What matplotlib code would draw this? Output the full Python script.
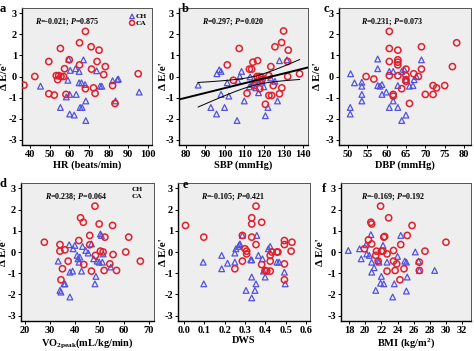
import numpy as np
import matplotlib.pyplot as plt

plt.rcParams['font.family'] = ['Liberation Serif', 'DejaVu Serif']
plt.rcParams['font.weight'] = 'bold'
plt.rcParams['axes.unicode_minus'] = False
plt.rcParams['mathtext.fontset'] = 'custom'
plt.rcParams['mathtext.rm'] = 'Liberation Serif:bold'
plt.rcParams['mathtext.it'] = 'Liberation Serif:italic:bold'

# ---- data ----
# a: HR
hr_ca_x = [37, 42.5, 49.6, 49.6, 52.4, 53.4, 54.6, 54.1, 55.5, 55.8, 57.1, 57.6, 58.3, 60, 65.2,
           65.2, 68.2, 68.2, 71.1, 71.3, 72.3, 73.1, 74.1, 75.1, 77.5, 78.3, 82, 83.2, 95]
hr_ca_y = [-0.41, 0.0, 0.71, -0.82, -0.88, 0.04, 0.04, -0.15, 1.33, 0.0, 0.0, 0.37, -0.85, 0.79, 0.55,
           1.6, 2.14, -0.58, 1.41, 0.35, -0.54, -0.8, 0.71, 1.25, 0.09, 0.47, -0.43, -1.28, 0.13]
hr_ch_x = [45.4, 55.5, 58.5, 60.2, 59.3, 59.7, 60.5, 60.2, 62.5, 63.5, 63.2, 65, 65, 66.2, 65.5,
           66.5, 67.2, 68, 68.4, 68.4, 73.9, 75.6, 76.5, 82, 84.4, 84.9, 83.5, 95.5]
hr_ch_y = [-0.46, -1.47, -0.97, -0.85, -0.18, 0.82, 0.29, -1.78, -1.83, -0.85, 0.37, 0.24, -0.3, -0.3, -1.47,
           -1.47, 0.79, -0.38, -1.16, -2.09, 0.27, -0.46, -0.46, -0.2, -0.15, -0.12, -1.16, -0.74]

# b: SBP
sbp_ca_x = [101.2, 107.3, 104.3, 111.3, 112.5, 113.7, 114.3, 116.7, 115.1, 116.4, 117.6, 117.8, 118.6, 120.7,
            122.5, 123.5, 122.5, 123.9, 125.6, 124.7, 127.9, 129, 129.1, 130, 132.1, 132.1, 132.4, 138.2, 119]
sbp_ca_y = [0.55, 1.33, -0.18, -0.8, 0.35, 0.35, 0.68, 0.75, -0.43, 0.0, 0.0, -0.58, -0.02, -1.32,
            0.04, 0.47, -0.9, -0.9, 1.41, -0.43, -0.82, 1.61, -0.54, 2.16, 0.71, 0.0, 1.25, 0.13, -0.15]
sbp_ch_x = [86.3, 92.8, 95.7, 95.9, 97.1, 98, 98, 99.8, 101.2, 102.0, 106.2, 106.7, 107.6, 108.5, 109.9, 112.9,
            112.5, 113.7, 115.5, 115.8, 117.2, 118.1, 119, 119.9, 120.7, 122, 123.4, 125.6, 126.9, 127.9, 131.7]
sbp_ch_y = [-0.41, -1.47, -1.78, 0.13, 0.32, 0.24, -0.85, -1.47, -0.3, -0.93, -2.09, -0.23, 0.0, 0.24, -1.16, -0.02,
            -0.49, -0.38, -0.23, -0.54, -0.77, -0.15, -0.23, -0.49, -1.86, -1.47, -0.07, -0.23, -1.16, 0.75, 0.79]

# c: DBP
dbp_ca_x = [54.7, 56.7, 60.7, 60.7, 60.7, 60.7, 61.7, 61.7, 62.9, 62.9, 62.9, 62.9, 62.9, 63.9, 65,
            65, 65, 65, 65.9, 67, 68.2, 69, 69, 70, 72, 72, 72.9, 75, 77, 78.1]
dbp_ca_y = [0.0, -0.12, 2.14, 1.33, 0.71, 0.04, -0.85, -0.93, 1.25, 0.79, 0.68, 0.55, 0.04, -0.58, 0.35,
            0.04, -0.15, -0.23, -1.28, 0.13, 0.0, 1.41, 0.35, -0.85, -0.43, -0.85, -0.54, -0.43, 0.47, 1.6]
dbp_ch_x = [50.7, 50.6, 50.6, 51.7, 53.6, 53.6, 53.6, 53.6, 57.7, 57.7, 57.7, 58.3, 58.8, 58.8, 59.9, 60.7,
            60.7, 61.7, 61.7, 62.9, 62.9, 63.9, 63.9, 64.6, 65, 65, 65.9, 66.8, 67.1, 67.7, 69]
dbp_ch_y = [0.13, -1.47, -1.78, -0.3, -0.27, -0.46, -0.85, -1.16, 0.83, 0.37, -0.43, -0.46, -0.38, -0.85, -0.74, -1.47,
            0.24, 0.24, -1.16, -0.43, -1.47, 0.24, -2.09, 0.32, -0.15, -1.83, -0.46, -0.43, -0.15, 0.0, 0.79]

# d: VO2peak
vo2_ca_x = [27.8, 34.1, 34.1, 34.5, 35.1, 36.1, 37.4, 41.7, 42.4, 43.5, 43.7, 46.1, 46.1, 46.8,
            48.2, 48.4, 49.9, 50.4, 51.5, 52.2, 51.9, 55.3, 55.5, 54.2, 56.9, 60.6, 61.8, 66.5]
vo2_ca_y = [0.46, 0.35, 0.04, -1.31, -0.79, 0.1, -0.43, 0.54, 1.61, 1.4, -0.59, 0.78, 0.34, -0.9,
            2.16, -0.16, 1.32, 0.04, 0.0, 0.7, -0.87, 1.25, -0.12, -0.56, -0.87, 0.0, 0.7, -0.43]
vo2_ch_x = [33.4, 34.1, 34.5, 35.7, 36.1, 37.8, 38.1, 38.1, 39.2, 39.4, 40.1, 41, 41.4, 41.8, 42.1,
            42.8, 43.2, 44.5, 45.5, 46.8, 47.7, 48.2, 48.6, 49.1, 49.9, 50.4, 50.8, 51.2, 51.5, 54.6]
vo2_ch_y = [-0.43, -1.81, -1.89, -1.5, -1.5, 0.34, -2.12, -0.95, -0.9, 0.15, 0.31, -0.16, -0.32, -0.48, -0.24,
            -0.9, 0.26, 0.07, -0.05, 0.38, -0.32, -1.5, -1.15, -0.43, -0.48, 0.85, 0.78, -0.48, -0.09, -0.71]

# e: DWS
dws_ca_x = [0.007, 0.097, 0.25, 0.287, 0.287, 0.3, 0.308, 0.308, 0.333, 0.333, 0.333, 0.354, 0.354, 0.382, 0.382,
            0.399, 0.407, 0.424, 0.424, 0.424, 0.432, 0.457, 0.462, 0.494, 0.494, 0.494, 0.494, 0.531, 0.527]
dws_ca_y = [1.25, 0.7, -0.79, 0.78, -0.43, 0.15, 0.04, -0.09, 1.61, 1.32, 0.7, 2.16, 0.35, 1.4, -0.59,
            -0.87, -0.9, -0.9, -0.16, -0.43, 0.0, 0.0, 0.0, 0.54, 0.35, -0.56, -1.31, 0.46, 0.04]
dws_ch_x = [0.094, 0.097, 0.185, 0.185, 0.214, 0.25, 0.25, 0.255, 0.267, 0.272, 0.275, 0.287, 0.305, 0.328, 0.333,
            0.333, 0.333, 0.349, 0.354, 0.358, 0.366, 0.386, 0.391, 0.399, 0.415, 0.424, 0.457, 0.468, 0.494, 0.498]
dws_ch_y = [-0.48, -1.5, -0.16, -0.79, -0.53, -0.05, -0.48, 0.15, 0.26, 0.34, 0.38, 0.78, -1.81, -0.37, -0.37,
            -1.18, -2.16, -1.81, -1.5, 0.78, -0.16, -0.32, -0.9, -1.18, 0.15, 0.26, -0.48, -0.48, -0.95, -1.5]

# f: BMI
bmi_ca_x = [19.9, 20.4, 20.7, 20.8, 20.8, 21.3, 21.4, 21.6, 21.9, 22.0, 22.2, 22.3, 22.4, 22.7, 22.7,
            22.9, 23.5, 23.5, 23.7, 23.9, 24.4, 24.3, 24.8, 25.2, 25.8, 26.7, 26.7, 27.4, 30]
bmi_ca_y = [0.15, 0.57, 1.4, 1.32, 0.38, -0.16, 0.04, -0.43, 2.16, 0.04, 0.04, 0.7, 0.73, -0.09, -0.9,
            1.61, 0.07, -0.43, -0.87, -0.56, 0.35, -1.31, -0.79, 0.78, 1.25, -0.48, -0.87, 0.04, 0.46]
bmi_ch_x = [17.9, 19.3, 19.5, 20.1, 20.2, 20.5, 20.7, 20.8, 20.8, 21.1, 21.3, 21.6, 21.7, 21.9, 22.0,
            22.2, 22.3, 22.7, 23.4, 23.6, 24.0, 24.4, 24.9, 25.1, 25.2, 25.1, 26.2, 26.6, 26.7, 28.6]
bmi_ch_y = [0.07, 0.15, -0.32, 0.34, -0.09, -0.16, 0.82, -0.48, -0.95, -0.74, -1.81, -0.4, -0.48, -1.47, -1.15,
            0.31, -1.5, -0.48, -2.12, -1.5, -0.21, 0.78, -0.43, -0.48, -1.18, -1.84, 0.0, -0.43, -0.87, -0.87]

letters = ['a', 'b', 'c', 'd', 'e', 'f']
xlabels = ['HR (beats/min)', 'SBP (mmHg)', 'DBP (mmHg)',
           r'VO$_{\mathrm{2peak}}$(mL/kg/min)', 'DWS', r'BMI (kg/m$^{\mathrm{2}}$)']
stats = ['$R$=-0.021; $P$=0.875', '$R$=0.297; $P$=0.020', '$R$=0.231; $P$=0.073',
         '$R$=0.238; $P$=0.064', '$R$=-0.105; $P$=0.421', '$R$=-0.169; $P$=0.192']
xlims = [(36, 102), (76.5, 142.5), (47.7, 81.8), (18.4, 72), (-0.03, 0.62), (17, 33.1)]
xticks = [np.arange(40, 101, 10), np.arange(80, 141, 10), np.arange(50, 81, 5),
          np.arange(20, 71, 10), np.arange(0, 0.61, 0.1), np.arange(18, 33, 2)]
panels = [(hr_ca_x, hr_ca_y, hr_ch_x, hr_ch_y), (sbp_ca_x, sbp_ca_y, sbp_ch_x, sbp_ch_y),
          (dbp_ca_x, dbp_ca_y, dbp_ch_x, dbp_ch_y), (vo2_ca_x, vo2_ca_y, vo2_ch_x, vo2_ch_y),
          (dws_ca_x, dws_ca_y, dws_ch_x, dws_ch_y), (bmi_ca_x, bmi_ca_y, bmi_ch_x, bmi_ch_y)]

# axes boxes in pixels (left, top, right, bottom) on a 474x351 canvas
boxes = [(22, 8, 152, 145), (179, 8, 308, 145), (339, 8, 471, 145),
         (21, 183, 154, 321), (178, 183, 310, 321), (341, 183, 471, 321)]
ylabel_px = [8.5, 168, 322, 8.5, 168, 325]
stat_pos = [0.35, 0.42, 0.40, 0.41, 0.42, 0.40]
letter_pos = [(3, 9), (185, 9), (326, 9), (3, 184), (185, 185), (324, 189)]

W, H = 474, 351
blue = '#5252E0'
red = '#E0202C'

fig = plt.figure(figsize=(4.74, 3.51), dpi=100)

for i in range(6):
    l, t, r, b = boxes[i]
    ax = fig.add_axes([l / W, 1 - b / H, (r - l) / W, (b - t) / H])
    ax.set_facecolor('#EEEEEE')
    cax, cay, chx, chy = panels[i]
    ax.scatter(chx, chy, marker='^', s=17, facecolors='none', edgecolors=blue, linewidths=0.9, label='CH', zorder=3)
    ax.scatter(cax, cay, marker='o', s=20, facecolors='none', edgecolors=red, linewidths=1.1, label='CA', zorder=3)

    ax.set_xlim(*xlims[i])
    ax.set_ylim(-3.25, 3.25)

    if i == 1:
        # linear fit with 95% CI of the mean, from the SBP points
        x = np.array(cax + chx, dtype=float)
        y = np.array(cay + chy, dtype=float)
        slope, icpt = np.polyfit(x, y, 1)
        xx = np.linspace(xlims[1][0], xlims[1][1], 50)
        ax.plot(xx, icpt + slope * xx, color='black', linewidth=1.4, zorder=5)
        n = len(x)
        res = y - (icpt + slope * x)
        se = np.sqrt(np.sum(res ** 2) / (n - 2))
        xb = np.linspace(x.min(), x.max(), 80)
        half = 2.0 * se * np.sqrt(1 / n + (xb - x.mean()) ** 2 / np.sum((x - x.mean()) ** 2))
        ax.plot(xb, icpt + slope * xb + half, color='black', linewidth=0.7, zorder=5)
        ax.plot(xb, icpt + slope * xb - half, color='black', linewidth=0.7, zorder=5)

    ax.set_xticks(xticks[i])
    if i == 4:
        ax.set_xticklabels(['%.1f' % v for v in xticks[i]])
    ax.set_yticks(range(-3, 4))
    ax.tick_params(direction='out', length=2.5, width=0.7, labelsize=7.5, pad=1)
    for s in ax.spines.values():
        s.set_color('#555555')
        s.set_linewidth(0.7)
    ax.spines['left'].set_color('black')
    ax.spines['bottom'].set_color('black')
    ax.spines['left'].set_linewidth(1.0)
    ax.spines['bottom'].set_linewidth(1.0)
    ax.set_xlabel(xlabels[i], fontsize=7.5, fontweight='bold', labelpad=1)
    ax.set_ylabel("Δ E/e'", fontsize=8, fontweight='bold')
    ax.yaxis.set_label_coords((ylabel_px[i] - l) / (r - l), 0.5)
    ax.text(stat_pos[i], 0.90, stats[i], transform=ax.transAxes, ha='center', va='center', fontsize=5.8)

    if i == 0:
        ax.legend(loc='upper right', fontsize=5.3, frameon=False, handletextpad=0.1, borderaxespad=0.3,
                  labelspacing=0.05, handlelength=0.8, markerscale=0.8)
    if i == 3:
        ax.text(0.83, 0.955, 'CH', transform=ax.transAxes, fontsize=5.3, va='center')
        ax.text(0.83, 0.905, 'CA', transform=ax.transAxes, fontsize=5.3, va='center')

    lx, ly = letter_pos[i]
    fig.text(lx / W, 1 - ly / H, letters[i], fontsize=9, fontweight='bold', ha='center', va='center')

fig.savefig('out.png', dpi=100)
